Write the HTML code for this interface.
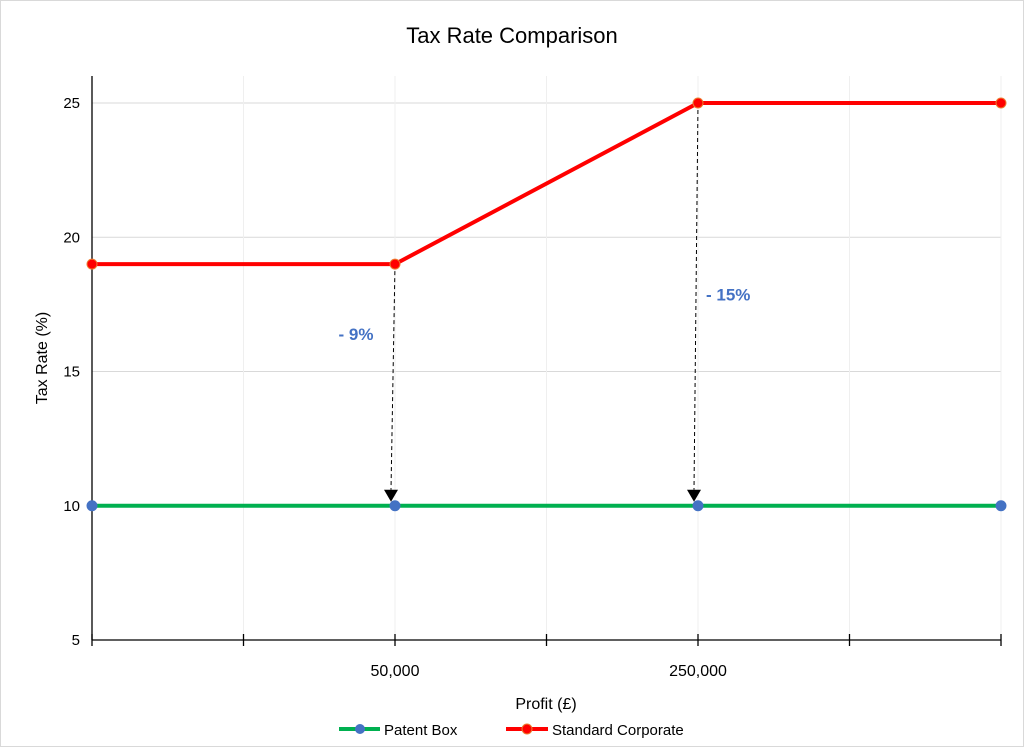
<!DOCTYPE html>
<html><head><meta charset="utf-8"><style>
body{margin:0;background:#fff}
svg{font-family:"Liberation Sans",sans-serif;display:block}
</style></head><body>
<svg width="1024" height="747" viewBox="0 0 1024 747">
<rect x="0.5" y="0.5" width="1023" height="746" fill="#fff" stroke="#d9d9d9"/>
<text x="512" y="43" text-anchor="middle" font-size="22" fill="#000">Tax Rate Comparison</text>
<g id="grid"></g>
<g id="axes"></g>
<g id="annot"></g>
<g id="series"></g>
<text transform="translate(47,358) rotate(-90)" text-anchor="middle" font-size="16">Tax Rate (%)</text>
<text x="546" y="709" text-anchor="middle" font-size="16">Profit (£)</text>
<g>
<g>
<line x1="339" y1="729" x2="380" y2="729" stroke="#00b050" stroke-width="4"/>
<circle cx="360" cy="729" r="5" fill="#4472c4"/>
<text x="384" y="735" font-size="15">Patent Box</text></g>
<g>
<line x1="506" y1="729" x2="548" y2="729" stroke="#ff0000" stroke-width="4"/>
<circle cx="527" cy="729" r="5" fill="#ff0000" stroke="#ed7d31" stroke-width="1"/>
<text x="552" y="735" font-size="15">Standard Corporate</text></g>
</g>
</svg>
<script>
const categories=["0","","50,000","","250,000","","max"];
const pointIdx=[0,2,4,6];
const patentBox=[10,10,10,10];
const standardCorporate=[19,19,25,25];
const yTicks=[5,10,15,20,25];
const annotLabels=["- 9%","- 15%"];
const NS="http://www.w3.org/2000/svg";
const x0=92,x1=1001,yTop=76,yBot=640;
const xs=i=>x0+(x1-x0)*i/(categories.length-1);
const ys=v=>640-(v-5)*(640-103)/20;
function mk(t,a,p){const e=document.createElementNS(NS,t);for(const k in a)e.setAttribute(k,a[k]);p.appendChild(e);return e;}
const grid=document.getElementById('grid'),axes=document.getElementById('axes'),ser=document.getElementById('series'),an=document.getElementById('annot');
yTicks.forEach(v=>{
 if(v>5){const l=mk('line',{x1:x0,x2:x1,y1:ys(v),y2:ys(v),stroke:'#d9d9d9','stroke-width':1},grid);
 
 }
 const t=mk('text',{x:80,y:ys(v)+5,'text-anchor':'end','font-size':15},axes);t.textContent=v;
 
 
});
categories.forEach((c,i)=>{
 if(i>0){const g=mk('line',{x1:xs(i),x2:xs(i),y1:yTop,y2:yBot,stroke:'#efefef','stroke-width':1},grid);
 
 }
 const tk=mk('line',{x1:xs(i),x2:xs(i),y1:yBot-6,y2:yBot+6,stroke:'#000','stroke-width':1.3},axes);
 
 
 if(c&&i>0&&i<categories.length-1){const t=mk('text',{x:xs(i),y:676,'text-anchor':'middle','font-size':16},axes);t.textContent=c;
 
 }
});
const ya=mk('line',{x1:x0,x2:x0,y1:yTop,y2:yBot,stroke:'#000','stroke-width':1.3},axes);


const xa=mk('line',{x1:x0,x2:x1,y1:yBot,y2:yBot,stroke:'#000','stroke-width':1.3},axes);


[[1,-39,-45],[2,8,-4]].forEach(([k,dx,dy],j)=>{
 const xp=xs(pointIdx[k]),ya1=ys(standardCorporate[k]),yb=ys(patentBox[k]);
 const l=mk('line',{x1:xp,y1:ya1,x2:xp-4,y2:yb-16,stroke:'#000','stroke-width':1,'stroke-dasharray':'4,3'},an);
 
 
 const a=mk('polygon',{points:`${xp-11},${yb-16} ${xp+3},${yb-16} ${xp-4},${yb-4}`,fill:'#000'},an);
 
 
 const t=mk('text',{x:xp+dx,y:(ya1+yb)/2+dy,fill:'#4472c4','font-size':17,'font-weight':'bold','text-anchor':j?'start':'middle'},an);
 t.textContent=annotLabels[j];
 
 
});
function drawSeries(vals,color,mfill,mstroke,name){
 const pts=vals.map((v,i)=>xs(pointIdx[i])+','+ys(v)).join(' ');
 const pl=mk('polyline',{points:pts,fill:'none',stroke:color,'stroke-width':4,'stroke-linejoin':'round'},ser);
 
 
 vals.forEach((v,i)=>{const c=mk('circle',{cx:xs(pointIdx[i]),cy:ys(v),r:5,fill:mfill,stroke:mstroke,'stroke-width':1},ser);
 
 });
}
drawSeries(patentBox,'#00b050','#4472c4','#4472c4','patent-box');
drawSeries(standardCorporate,'#ff0000','#ff0000','#ed7d31','standard-corporate');
</script>
</body></html>
